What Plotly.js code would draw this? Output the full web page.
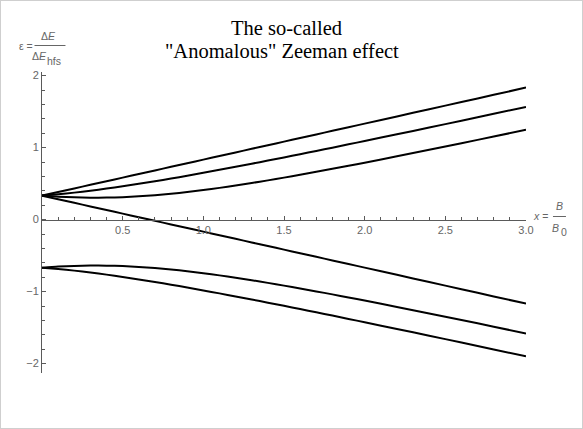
<!DOCTYPE html>
<html>
<head>
<meta charset="utf-8">
<script src="https://cdn.plot.ly/plotly-3.0.1.min.js"></script>
<style>
html,body{margin:0;padding:0;background:#fff;}
#wrap{position:relative;width:583px;height:429px;}
#chart{width:583px;height:429px;}
#frame{position:absolute;left:0;top:0;width:583px;height:429px;box-sizing:border-box;border:1px solid #cfcfcf;pointer-events:none;}
</style>
</head>
<body>
<div id="wrap"><div id="chart"></div><div id="frame"></div></div>
<script>
// magnetic field x = B/B0
const xs = [0,0.1,0.2,0.3,0.4,0.5,0.6,0.7,0.8,0.9,1.0,1.1,1.2,1.3,1.4,1.5,1.6,1.7,1.8,1.9,2.0,2.2,2.4,2.6,2.8,3.0];
// energy levels eps = dE/dE_hfs
const upperStretchedPlus = [0.3333,0.3833,0.4333,0.4833,0.5333,0.5833,0.6333,0.6833,0.7333,0.7833,0.8333,0.8833,0.9333,0.9833,1.0333,1.0833,1.1333,1.1833,1.2333,1.2833,1.3333,1.4333,1.5333,1.6333,1.7333,1.8333];
const upperHalfPlus = [0.3333,0.3522,0.3749,0.4012,0.4306,0.4625,0.4967,0.5327,0.5704,0.6095,0.6498,0.6911,0.7333,0.7763,0.8199,0.8641,0.9088,0.9540,0.9995,1.0454,1.0916,1.1849,1.2790,1.3739,1.4694,1.5654];
const upperHalfMinus = [0.3333,0.3190,0.3094,0.3050,0.3059,0.3121,0.3232,0.3391,0.3593,0.3833,0.4107,0.4409,0.4736,0.5085,0.5451,0.5833,0.6229,0.6635,0.7051,0.7476,0.7908,0.8790,0.9691,1.0608,1.1537,1.2475];
const upperStretchedMinus = [0.3333,0.2833,0.2333,0.1833,0.1333,0.0833,0.0333,-0.0167,-0.0667,-0.1167,-0.1667,-0.2167,-0.2667,-0.3167,-0.3667,-0.4167,-0.4667,-0.5167,-0.5667,-0.6167,-0.6667,-0.7667,-0.8667,-0.9667,-1.0667,-1.1667];
const lowerHalfMinus = [-0.6667,-0.6523,-0.6428,-0.6384,-0.6392,-0.6454,-0.6566,-0.6725,-0.6927,-0.7167,-0.7440,-0.7743,-0.8070,-0.8418,-0.8785,-0.9167,-0.9562,-0.9968,-1.0384,-1.0809,-1.1241,-1.2123,-1.3024,-1.3941,-1.4870,-1.5809];
const lowerHalfPlus = [-0.6667,-0.6855,-0.7083,-0.7346,-0.7639,-0.7958,-0.8300,-0.8661,-0.9038,-0.9429,-0.9832,-1.0245,-1.0667,-1.1096,-1.1532,-1.1974,-1.2422,-1.2873,-1.3329,-1.3788,-1.4250,-1.5182,-1.6124,-1.7072,-1.8027,-1.8987];

const xTickVals = [0.5,1.0,1.5,2.0,2.5,3.0];
const xTickText = ['0.5','1.0','1.5','2.0','2.5','3.0'];
const yTickVals = [-2,-1,0,1,2];
const yTickText = ['\u22122','\u22121','0','1','2'];
const titleLines = ['The so-called', '"Anomalous" Zeeman effect'];

const series = [upperStretchedPlus, upperHalfPlus, upperHalfMinus, upperStretchedMinus, lowerHalfMinus, lowerHalfPlus];
const traces = series.map(ys => ({
  x: xs, y: ys, type: 'scatter', mode: 'lines',
  line: {color: '#000', width: 2, shape: 'spline', smoothing: 0.6},
  hoverinfo: 'skip', showlegend: false
}));

const yMin = -2.13, yMax = 2.05;
const axisCol = '#5a5a5a';
const labCol = '#666666';
const tickFont = {family: 'Liberation Sans, Arial, sans-serif', size: 11, color: labCol};
const labFont = {family: 'Liberation Sans, Arial, sans-serif', size: 10.5, color: labCol};
const titleFont = {family: 'Liberation Serif, Times New Roman, serif', size: 20.5, color: '#000'};

const plotL = 41.5, plotR = 57, plotT = 72, plotB = 56;
const plotW = 583 - plotL - plotR, plotH = 429 - plotT - plotB;
const px2x = px => (px - plotL) / plotW;
const py2y = py => 1 - (py - plotT) / plotH;

const ann = (text, px, py, font, xanchor) => ({
  text: text, x: px2x(px), y: py2y(py), xref: 'paper', yref: 'paper',
  xanchor: xanchor || 'center', yanchor: 'middle', showarrow: false, font: font
});

const layout = {
  width: 583, height: 429,
  margin: {l: plotL, r: plotR, t: plotT, b: plotB, pad: 0},
  paper_bgcolor: '#fff', plot_bgcolor: '#fff',
  showlegend: false,
  xaxis: {
    range: [0, 3.0], anchor: 'free', position: (0 - yMin) / (yMax - yMin),
    showgrid: false, zeroline: false, showline: true, linecolor: axisCol, linewidth: 1,
    tickmode: 'array', tickvals: xTickVals, ticktext: xTickText,
    ticks: 'inside', ticklen: 4, tickcolor: axisCol, tickwidth: 1,
    tickfont: tickFont,
    minor: {tickmode: 'linear', tick0: 0, dtick: 0.1, ticks: 'inside', ticklen: 2.5, tickcolor: axisCol, showgrid: false}
  },
  yaxis: {
    range: [yMin, yMax],
    showgrid: false, zeroline: false, showline: true, linecolor: axisCol, linewidth: 1,
    tickmode: 'array', tickvals: yTickVals, ticktext: yTickText,
    ticks: 'inside', ticklen: 4, tickcolor: axisCol, tickwidth: 1,
    tickfont: tickFont,
    minor: {tickmode: 'linear', tick0: 0, dtick: 0.2, ticks: 'inside', ticklen: 2.5, tickcolor: axisCol, showgrid: false}
  },
  annotations: [
    ann(titleLines[0], 286, 27.5, titleFont),
    ann(titleLines[1], 282, 50.5, titleFont),
    ann('\u03b5 =', 16, 46, labFont, 'left'),
    ann('\u0394<i>E</i>', 48, 36, labFont),
    ann('\u0394<i>E</i>', 38.5, 56, labFont),
    ann('hfs', 45, 60.5, labFont, 'left'),
    ann('<i>x</i> =', 541, 216, labFont),
    ann('<i>B</i>', 559.5, 206, labFont),
    ann('<i>B</i>', 556, 228, labFont),
    ann('0', 559.5, 231.5, labFont, 'left')
  ],
  shapes: [34, 553].map((x0, i) => ({
    type: 'line', xref: 'paper', yref: 'paper',
    x0: px2x(x0), x1: px2x(i === 0 ? 65 : 566),
    y0: py2y(i === 0 ? 45.5 : 216.5), y1: py2y(i === 0 ? 45.5 : 216.5),
    line: {color: labCol, width: 1}
  }))
};

Plotly.newPlot('chart', traces, layout, {displayModeBar: false, staticPlot: true});
</script>
</body>
</html>
